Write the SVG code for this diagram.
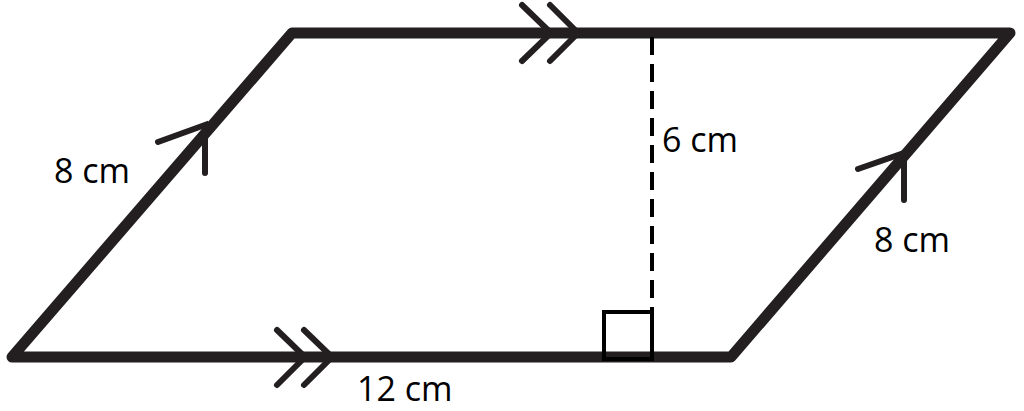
<svg xmlns="http://www.w3.org/2000/svg" width="1024" height="411" viewBox="0 0 1024 411">
<style>
.edge{fill:none;stroke:#231f20;stroke-width:11;stroke-linejoin:round;stroke-linecap:round}
.tick{fill:none;stroke:#231f20;stroke-width:6;stroke-linecap:round;stroke-linejoin:miter}
.dash{fill:none;stroke:#000;stroke-width:4;stroke-dasharray:18 9}
.sq{fill:none;stroke:#000;stroke-width:4}
.lbl{font-family:"Open Sans","Noto Sans",sans-serif;font-size:34px;fill:#000}
</style>
<rect width="1024" height="411" fill="#fff"/>
<g id="parallelogram">
<polygon class="edge" points="12,357 292,33 1010,33 731,357"/>
</g>
<g id="connectors">
<line class="dash" x1="652" y1="37" x2="652" y2="312"/>
<rect class="sq" x="604" y="312" width="48" height="47"/>
<polyline class="tick" points="158,142 205,125 205,173"/>
<polyline class="tick" points="858,169 904,153 904,200"/>
<polyline class="tick" points="522,5 551,33 522,61"/>
<polyline class="tick" points="550,5 578,33 550,61"/>
<polyline class="tick" points="277,330 305,357 277,385"/>
<polyline class="tick" points="304,330 332,357 304,385"/>
</g>
<g id="labels">
<text class="lbl" x="54" y="183">8 cm</text>
<text class="lbl" x="662" y="152">6 cm</text>
<text class="lbl" x="874" y="252">8 cm</text>
<text class="lbl" x="357" y="401">12 cm</text>
</g>
</svg>
